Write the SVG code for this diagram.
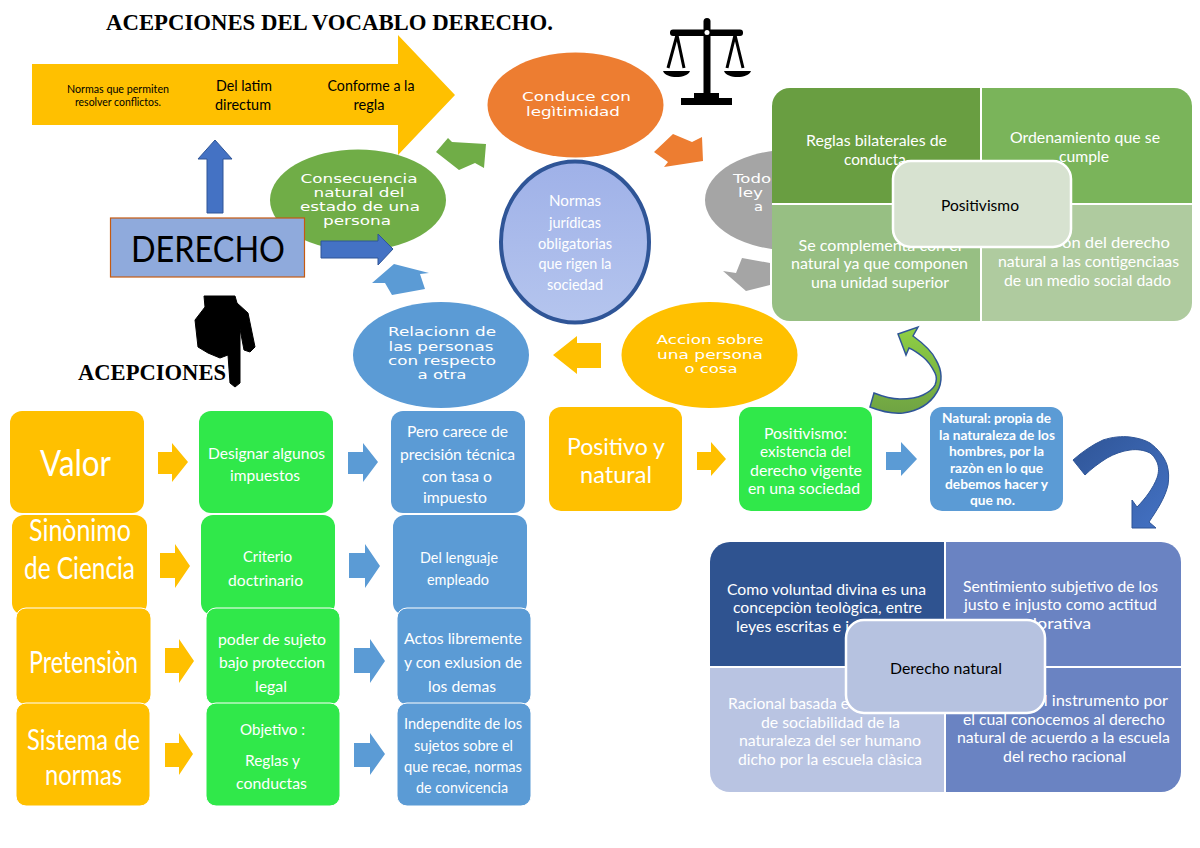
<svg xmlns="http://www.w3.org/2000/svg" width="1200" height="848" viewBox="0 0 1200 848">
<style>
text{font-family:Lato,"Liberation Sans",Arial,sans-serif;text-anchor:middle;dominant-baseline:central;fill:#fff;transform:translateY(-1px)}
.ttl{font-family:"Liberation Serif","Times New Roman",serif;font-weight:bold;font-size:23px;fill:#000;text-anchor:start;dominant-baseline:alphabetic}
.wide{font-family:"DejaVu Sans",Verdana,sans-serif;font-size:12px}
.blk{fill:#000}
.m{font-size:16px}
.s{font-size:16px}
.n{font-size:13.500px;font-weight:bold}
.st{text-anchor:start}
.en{text-anchor:end}
.y{fill:#ffc000}.g{fill:#30e84a}.b{fill:#5b9bd5}
.sep{stroke:#fff;stroke-width:2;fill:none}
.hub{stroke:#fff;stroke-width:2.5}
</style>
<defs>
<linearGradient id="lil" x1="0" y1="0" x2="0" y2="1"><stop offset="0" stop-color="#9fb1e8"/><stop offset="1" stop-color="#b5c5ee"/></linearGradient>
<linearGradient id="cg" x1="0" y1="0" x2="0" y2="1"><stop offset="0" stop-color="#8fd044"/><stop offset="1" stop-color="#6fa343"/></linearGradient>
<linearGradient id="cb" x1="0" y1="0" x2="1" y2="1"><stop offset="0" stop-color="#2f5597"/><stop offset="1" stop-color="#4472c4"/></linearGradient>
</defs>
<rect width="1200" height="848" fill="#fff"/>

<g id="titulo"><text class="ttl" x="106" y="31" textLength="447" lengthAdjust="spacingAndGlyphs">ACEPCIONES DEL VOCABLO DERECHO.</text></g>

<g id="consecuencia"><ellipse cx="358" cy="200" rx="88" ry="50.500" fill="#70ad47"/>
<text class="wide" x="359" y="180" textLength="117" lengthAdjust="spacingAndGlyphs">Consecuencia</text><text class="wide" x="359" y="194" textLength="91" lengthAdjust="spacingAndGlyphs">natural del</text><text class="wide" x="360" y="208" textLength="120" lengthAdjust="spacingAndGlyphs">estado de una</text><text class="wide" x="357" y="222" textLength="68" lengthAdjust="spacingAndGlyphs">persona</text></g>

<g id="flecha-acepciones"><polygon points="32,64 398,64 398,35 455,95 398,155 398,125 32,125" fill="#ffc000"/>
<text class="blk" font-size="11" x="118" y="89" textLength="102" lengthAdjust="spacingAndGlyphs">Normas que permiten</text><text class="blk" font-size="11" x="118" y="102" textLength="86" lengthAdjust="spacingAndGlyphs">resolver conflictos.</text>
<text class="blk" font-size="15" x="244" y="86" textLength="56" lengthAdjust="spacingAndGlyphs">Del latim</text><text class="blk" font-size="15" x="243" y="105" textLength="56" lengthAdjust="spacingAndGlyphs">directum</text>
<text class="blk" font-size="15" x="371" y="86" textLength="87" lengthAdjust="spacingAndGlyphs">Conforme a la</text><text class="blk" font-size="15" x="369" y="105" textLength="31" lengthAdjust="spacingAndGlyphs">regla</text></g>

<g id="derecho"><rect x="110.500" y="218" width="194" height="59" fill="#8faadc" stroke="#c55a11" stroke-width="1.200"/>
<text class="blk" x="208" y="248" font-size="37" textLength="154" lengthAdjust="spacingAndGlyphs">DERECHO</text></g>

<g id="legitimidad"><ellipse cx="575.500" cy="105" rx="88" ry="52.500" fill="#ed7d31"/>
<text class="wide" x="576.500" y="98" textLength="109" lengthAdjust="spacingAndGlyphs">Conduce con</text><text class="wide" x="573" y="113" textLength="94" lengthAdjust="spacingAndGlyphs">legìtimidad</text></g>

<g id="normas"><ellipse cx="575" cy="242" rx="74" ry="80.500" fill="url(#lil)" stroke="#2f5597" stroke-width="4"/>
<text font-size="15" x="575" y="201" textLength="52" lengthAdjust="spacingAndGlyphs">Normas</text><text font-size="15" x="575" y="223" textLength="52" lengthAdjust="spacingAndGlyphs">jurídicas</text><text font-size="15" x="575" y="244" textLength="74" lengthAdjust="spacingAndGlyphs">obligatorias</text><text font-size="15" x="575" y="264" textLength="73" lengthAdjust="spacingAndGlyphs">que rigen la</text><text font-size="15" x="575" y="285" textLength="56" lengthAdjust="spacingAndGlyphs">sociedad</text></g>

<g id="todo"><ellipse cx="793" cy="200" rx="88" ry="50.500" fill="#a5a5a5"/>
<text class="wide st" x="733" y="180" textLength="38" lengthAdjust="spacingAndGlyphs">Todo</text><text class="wide st" x="738" y="194" textLength="25" lengthAdjust="spacingAndGlyphs">ley</text><text class="wide st" x="754" y="208" textLength="9" lengthAdjust="spacingAndGlyphs">a</text></g>

<g id="relacion"><ellipse cx="441" cy="355" rx="88" ry="53" fill="#5b9bd5"/>
<text class="wide" x="442" y="333" textLength="108" lengthAdjust="spacingAndGlyphs">Relacionn de</text><text class="wide" x="441" y="348" textLength="105" lengthAdjust="spacingAndGlyphs">las personas</text><text class="wide" x="442" y="362" textLength="108" lengthAdjust="spacingAndGlyphs">con respecto</text><text class="wide" x="442" y="376" textLength="49" lengthAdjust="spacingAndGlyphs">a otra</text></g>

<g id="accion"><ellipse cx="709.500" cy="355" rx="88" ry="53" fill="#ffc000"/>
<text class="wide" x="710" y="341" textLength="107" lengthAdjust="spacingAndGlyphs">Accion sobre</text><text class="wide" x="710" y="356" textLength="106" lengthAdjust="spacingAndGlyphs">una persona</text><text class="wide" x="711" y="370" textLength="53" lengthAdjust="spacingAndGlyphs">o cosa</text></g>

<g id="balanza">
<g fill="#000">
<rect x="670" y="29.500" width="73" height="6.500" rx="3"/><rect x="703.500" y="18" width="7" height="78" rx="3.500"/>
<rect x="694" y="93" width="25" height="6"/><rect x="681" y="98" width="51" height="7"/>
<path d="M663,71 H690 C687,79 666,79 663,71Z M724,71 H751 C748,79 727,79 724,71Z"/>
</g>
<path d="M668,68 L677,35 L684,68 M727,68 L735,35 L743,68" fill="none" stroke="#000" stroke-width="3"/>
<circle cx="707" cy="32.500" r="2.500" fill="#fff"/>
</g>

<g id="mano"><path d="M204,296 L235,296 L237,303 L248,313 L255,347 L250,352 L244,350 L240,329 L240,383 L235,387 L230,383 L228,355 L220,358 L208,353 L198,347 L195,320 L205,307Z" fill="#000" stroke="#000" stroke-linejoin="round"/></g>
<g id="acepciones"><text class="ttl" x="78" y="381" textLength="148" lengthAdjust="spacingAndGlyphs">ACEPCIONES</text></g>

<g id="positivismo-matriz">
<path d="M981,88 H790 A18,18 0 0 0 772,106 V204 H981Z" fill="#699e41"/>
<path d="M981,88 H1174 A18,18 0 0 1 1192,106 V204 H981Z" fill="#7ab45a"/>
<path d="M981,204 H772 V303 A18,18 0 0 0 790,321 H981Z" fill="#97bf83"/>
<path d="M981,204 H1192 V303 A18,18 0 0 1 1174,321 H981Z" fill="#afcb9f"/>
<path class="sep" d="M981,88 V321 M772,204 H1192"/>
<text class="m" x="876.500" y="140" textLength="141" lengthAdjust="spacingAndGlyphs">Reglas bilaterales de</text><text class="m" x="875" y="159" textLength="62" lengthAdjust="spacingAndGlyphs">conducta</text>
<text class="m" x="1085" y="137" textLength="150" lengthAdjust="spacingAndGlyphs">Ordenamiento que se</text><text class="m" x="1084" y="156" textLength="50" lengthAdjust="spacingAndGlyphs">cumple</text>
<text class="m" x="880" y="245" textLength="163" lengthAdjust="spacingAndGlyphs">Se complementa con el</text><text class="m" x="879.500" y="263" textLength="177" lengthAdjust="spacingAndGlyphs">natural ya que componen</text><text class="m" x="880" y="282" textLength="138" lengthAdjust="spacingAndGlyphs">una unidad superior</text>
<text class="m en" x="1170" y="242" textLength="108" lengthAdjust="spacingAndGlyphs">ón del derecho</text><text class="m" x="1088.500" y="261" textLength="181" lengthAdjust="spacingAndGlyphs">natural a las contigenciaas</text><text class="m" x="1087.500" y="280" textLength="167" lengthAdjust="spacingAndGlyphs">de un medio social dado</text>
</g>
<g id="positivismo"><rect class="hub" x="893" y="161" width="178" height="86" rx="18" fill="#d7e2d0"/>
<text class="blk" font-size="16" x="980" y="205" textLength="78" lengthAdjust="spacingAndGlyphs">Positivismo</text></g>

<g id="valor"><rect class="y" x="10" y="411" width="134" height="102" rx="12"/><text font-size="36" x="75.500" y="463" textLength="71" lengthAdjust="spacingAndGlyphs">Valor</text></g>
<g id="designar"><rect class="g" x="199" y="411" width="134" height="102" rx="12"/><text class="s" x="266.500" y="453" textLength="117" lengthAdjust="spacingAndGlyphs">Designar algunos</text><text class="s" x="265" y="475" textLength="70" lengthAdjust="spacingAndGlyphs">impuestos</text></g>
<g id="carece"><rect class="b" x="391" y="411" width="134" height="102" rx="12"/><text class="s" x="457.500" y="431" textLength="101" lengthAdjust="spacingAndGlyphs">Pero carece de</text><text class="s" x="457.500" y="454" textLength="115" lengthAdjust="spacingAndGlyphs">precisión técnica</text><text class="s" x="457" y="476" textLength="70" lengthAdjust="spacingAndGlyphs">con tasa o</text><text class="s" x="455" y="497" textLength="64" lengthAdjust="spacingAndGlyphs">impuesto</text></g>

<g id="sinonimo"><rect class="y" x="12" y="515" width="135" height="100" rx="12"/><text font-size="31" x="80" y="530" textLength="102" lengthAdjust="spacingAndGlyphs">Sinònimo</text><text font-size="31" x="79.500" y="568" textLength="111" lengthAdjust="spacingAndGlyphs">de Ciencia</text></g>
<g id="criterio"><rect class="g" x="201" y="515" width="134" height="100" rx="12"/><text class="s" x="267.500" y="556" textLength="49" lengthAdjust="spacingAndGlyphs">Criterio</text><text class="s" x="265.500" y="580" textLength="75" lengthAdjust="spacingAndGlyphs">doctrinario</text></g>
<g id="lenguaje"><rect class="b" x="393" y="515" width="134" height="100" rx="12"/><text class="s" x="459" y="557" textLength="78" lengthAdjust="spacingAndGlyphs">Del lenguaje</text><text class="s" x="458" y="579" textLength="62" lengthAdjust="spacingAndGlyphs">empleado</text></g>

<g id="pretension"><rect class="y" x="16" y="608" width="135" height="97" rx="10" stroke="#fff"/><text font-size="31" x="83.500" y="662" textLength="109" lengthAdjust="spacingAndGlyphs">Pretensiòn</text></g>
<g id="poder"><rect class="g" x="206" y="608" width="134" height="97" rx="10" stroke="#fff"/><text class="s" x="272" y="639" textLength="108" lengthAdjust="spacingAndGlyphs">poder de sujeto</text><text class="s" x="272" y="662" textLength="106" lengthAdjust="spacingAndGlyphs">bajo proteccion</text><text class="s" x="271" y="686" textLength="32" lengthAdjust="spacingAndGlyphs">legal</text></g>
<g id="actos"><rect class="b" x="397" y="608" width="134" height="97" rx="10" stroke="#fff"/><text class="s" x="463" y="638" textLength="118" lengthAdjust="spacingAndGlyphs">Actos libremente</text><text class="s" x="463" y="662" textLength="118" lengthAdjust="spacingAndGlyphs">y con exlusion de</text><text class="s" x="462" y="686" textLength="68" lengthAdjust="spacingAndGlyphs">los demas</text></g>

<g id="sistema"><rect class="y" x="16" y="703" width="134" height="103" rx="10" stroke="#fff"/><text font-size="29" x="83.500" y="739" textLength="113" lengthAdjust="spacingAndGlyphs">Sistema de</text><text font-size="29" x="83.500" y="774" textLength="77" lengthAdjust="spacingAndGlyphs">normas</text></g>
<g id="objetivo"><rect class="g" x="206" y="703" width="134" height="103" rx="10" stroke="#fff"/><text class="s" x="272.500" y="729" textLength="65" lengthAdjust="spacingAndGlyphs">Objetivo :</text><text class="s" x="272.500" y="760" textLength="55" lengthAdjust="spacingAndGlyphs">Reglas y</text><text class="s" x="271.500" y="783" textLength="71" lengthAdjust="spacingAndGlyphs">conductas</text></g>
<g id="independiente"><rect class="b" x="397" y="703" width="134" height="103" rx="10" stroke="#fff"/><text class="s" x="463" y="723" textLength="118" lengthAdjust="spacingAndGlyphs">Independite de los</text><text class="s" x="463.500" y="745" textLength="99" lengthAdjust="spacingAndGlyphs">sujetos sobre el</text><text class="s" x="463" y="766" textLength="118" lengthAdjust="spacingAndGlyphs">que recae, normas</text><text class="s" x="462" y="787" textLength="92" lengthAdjust="spacingAndGlyphs">de convicencia</text></g>

<g id="positivo-natural"><rect class="y" x="549" y="407" width="133" height="104" rx="12"/><text font-size="23" x="616" y="447" textLength="98" lengthAdjust="spacingAndGlyphs">Positivo y</text><text font-size="23" x="616" y="475" textLength="72" lengthAdjust="spacingAndGlyphs">natural</text></g>
<g id="positivismo-def"><rect class="g" x="739" y="407" width="133" height="104" rx="12"/><text class="m" x="805.500" y="433" textLength="83" lengthAdjust="spacingAndGlyphs">Positivismo:</text><text class="m" x="805.500" y="451" textLength="91" lengthAdjust="spacingAndGlyphs">existencia del</text><text class="m" x="806" y="470" textLength="112" lengthAdjust="spacingAndGlyphs">derecho vigente</text><text class="m" x="804" y="488" textLength="112" lengthAdjust="spacingAndGlyphs">en una sociedad</text></g>
<g id="natural-def"><rect class="b" x="930" y="407" width="133" height="104" rx="12"/><text class="n" x="996.500" y="419" textLength="109" lengthAdjust="spacingAndGlyphs">Natural: propia de</text><text class="n" x="997" y="436" textLength="116" lengthAdjust="spacingAndGlyphs">la naturaleza de los</text><text class="n" x="996.500" y="452" textLength="95" lengthAdjust="spacingAndGlyphs">hombres, por la</text><text class="n" x="996.500" y="469" textLength="93" lengthAdjust="spacingAndGlyphs">razòn en lo que</text><text class="n" x="996.500" y="485" textLength="103" lengthAdjust="spacingAndGlyphs">debemos hacer y</text><text class="n" x="992.500" y="501" textLength="45" lengthAdjust="spacingAndGlyphs">que no.</text></g>

<g id="natural-matriz">
<path d="M945,542 H730 A20,20 0 0 0 710,562 V667 H945Z" fill="#2f5390"/>
<path d="M945,542 H1161 A20,20 0 0 1 1181,562 V667 H945Z" fill="#6a83c2"/>
<path d="M945,667 H710 V772 A20,20 0 0 0 730,792 H945Z" fill="#b9c4e2"/>
<path d="M945,667 H1181 V772 A20,20 0 0 1 1161,792 H945Z" fill="#6a83c2"/>
<path class="sep" d="M945,542 V792 M710,667 H1181"/>
<text class="m" x="826.500" y="589" textLength="199" lengthAdjust="spacingAndGlyphs">Como voluntad divina es una</text><text class="m" x="827.500" y="607" textLength="189" lengthAdjust="spacingAndGlyphs">concepciòn teològica, entre</text><text class="m st" x="736" y="626" textLength="113" lengthAdjust="spacingAndGlyphs">leyes escritas e i</text>
<text class="m" x="1060.500" y="586" textLength="195" lengthAdjust="spacingAndGlyphs">Sentimiento subjetivo de los</text><text class="m" x="1060.500" y="604" textLength="193" lengthAdjust="spacingAndGlyphs">justo e injusto como actitud</text><text class="m en" x="1091" y="623" textLength="76" lengthAdjust="spacingAndGlyphs">valorativa</text>
<text class="m st" x="728" y="703" textLength="121" lengthAdjust="spacingAndGlyphs">Racional basada e</text><text class="m" x="830.500" y="722" textLength="139" lengthAdjust="spacingAndGlyphs">de sociabilidad de la</text><text class="m" x="830" y="740" textLength="182" lengthAdjust="spacingAndGlyphs">naturaleza del ser humano</text><text class="m" x="830" y="759" textLength="184" lengthAdjust="spacingAndGlyphs">dicho por la escuela clàsica</text>
<text class="m en" x="1168" y="700" textLength="133" lengthAdjust="spacingAndGlyphs">el instrumento por</text><text class="m" x="1064" y="719" textLength="202" lengthAdjust="spacingAndGlyphs">el cual conocemos al derecho</text><text class="m" x="1063.500" y="737" textLength="213" lengthAdjust="spacingAndGlyphs">natural de acuerdo a la escuela</text><text class="m" x="1064.500" y="756" textLength="123" lengthAdjust="spacingAndGlyphs">del recho racional</text>
</g>
<g id="derecho-natural"><rect class="hub" x="846" y="620" width="199" height="93" rx="18" fill="#b6c2e0"/>
<text class="blk" font-size="16" x="946" y="668" textLength="112" lengthAdjust="spacingAndGlyphs">Derecho natural</text></g>

<g id="conectores">
<polygon points="207,213 207,159 198,159 215,140 232,159 223,159 223,213" fill="#4472c4" stroke="#2f5597"/>
<polygon points="321,241 378,241 378,234 393,249 378,265 378,258 321,258" fill="#4472c4" stroke="#2f5597"/>
<polygon points="448,138 452,142 486,144 484,168 475,163 459,170 436,152" fill="#70ad47"/>
<polygon points="654,152 673,134 692,142 702,137 703,161 664,167 668,162" fill="#ed7d31"/>
<polygon points="723,271 736,273 742,258 770,263 770,285 746,291" fill="#a5a5a5"/>
<polygon points="372,283 394,264 429,273 420,274 425,289 392,295 385,283" fill="#5b9bd5"/>
<polygon points="553,355 577,336 577,343 601,343 601,368 577,368 577,374" fill="#ffc000"/>
<polygon class="y" points="158,452 172,452 172,443 188,462 172,482 172,474 158,474"/>
<polygon class="b" points="348,452 363,452 363,443 378,462 363,482 363,474 348,474"/>
<polygon class="y" points="160,553 175,553 175,544 190,566 175,588 175,578 160,578"/>
<polygon class="b" points="349,553 365,553 365,544 380,566 365,588 365,578 349,578"/>
<polygon class="y" points="165,648 179,648 179,639 194,661 179,683 179,673 165,673"/>
<polygon class="b" points="354,648 370,648 370,639 385,661 370,683 370,673 354,673"/>
<polygon class="y" points="165,743 179,743 179,733 193,754 179,775 179,767 165,767"/>
<polygon class="b" points="354,743 370,743 370,733 385,754 370,775 370,767 354,767"/>
<polygon class="y" points="697,452 711,452 711,442 726,459 711,476 711,470 697,470"/>
<polygon class="b" points="886,452 901,452 901,442 917,459 901,476 901,470 886,470"/>
<path d="M898,334 L918,327 L913,336 C924,344 933,353 936,360 C942,370 943,382 937,392 C930,404 918,411 903,413 C892,414 880,411 870,407 L874,393 C884,397 892,399 900,399 C910,399 917,398 923,395 C929,392 933,389 935,385 C937,380 937,377 935,373 C932,367 928,361 923,357 C918,353 914,350 909,348 L906,355Z" fill="url(#cg)" stroke="#2f5597" stroke-width="1.500"/>
<path d="M1073,460 C1082,452 1092,445 1103,440 C1112,437 1122,436 1130,437 C1138,438 1145,440 1150,443 C1158,449 1164,456 1167,465 C1169,472 1169,478 1168,485 C1165,498 1157,510 1149,522 L1156,528 L1132,528 L1132,500 L1137,507 C1146,498 1153,488 1157,478 C1159,472 1159,467 1157,462 C1155,458 1153,455 1150,453 C1144,450 1137,449 1130,450 C1122,451 1114,454 1107,458 C1099,463 1091,469 1085,475Z" fill="url(#cb)" stroke="#2f5597" stroke-width="1"/>
</g>
</svg>
